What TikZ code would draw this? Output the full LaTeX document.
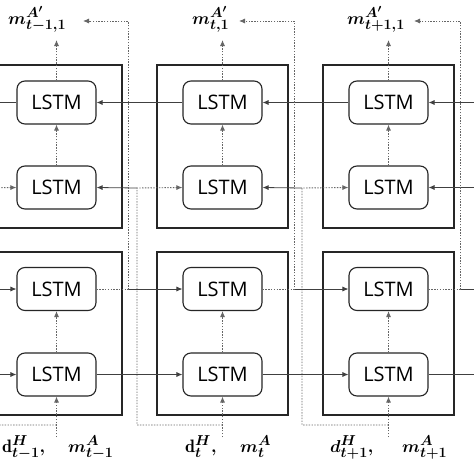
\documentclass[tikz,border=0pt]{standalone}
\usepackage{fontspec}
\setsansfont{Open Sans}
\DeclareMathSizes{18}{18}{14}{11}
\usetikzlibrary{arrows.meta}
\begin{document}
\begin{tikzpicture}[x=1pt,y=-1pt,
  lstm/.style={draw=black!85,line width=1.1pt,rounded corners=8pt,minimum width=79pt,minimum height=43pt,inner sep=0pt,font=\sffamily\fontsize{20}{20}\selectfont,fill=white},
  boxframe/.style={draw=black!85,line width=1.1pt},
  link/.style={draw=black!75,line width=0.8pt},
  dotlink/.style={draw=black!60,line width=0.9pt,dash pattern=on 1.4pt off 1.4pt},
  tip/.style={-{Latex[length=6pt,width=5pt]}},
  lab/.style={anchor=base west,inner sep=0pt,font=\fontsize{18}{18}\selectfont\boldmath}]
\useasboundingbox (0,0) rectangle (474,474);
\clip (0,0) rectangle (474,474);
\fill[white] (0,0) rectangle (474,474);
% frames
\foreach \c/\n in {56.5/1,222.5/2,388.5/3}{
  \draw[boxframe] (\c-65.5,65) rectangle (\c+65.5,228);
  \draw[boxframe] (\c-65.5,252) rectangle (\c+65.5,415);
}
% LSTM nodes
\foreach \c/\n in {56.5/1,222.5/2,388.5/3}{
  \node[lstm] (T\n) at (\c,102.5) {LSTM};
  \node[lstm] (U\n) at (\c,187.5) {LSTM};
  \node[lstm] (P\n) at (\c,289) {LSTM};
  \node[lstm] (Q\n) at (\c,374.5) {LSTM};
  \coordinate (top\n) at (\c,40);
  \coordinate (in\n) at (\c,437);
  \coordinate (join\n) at (\c,425);
}
% labels
\node[lab] (L1) at (8,24) {$m^{A'}_{t-1,1}$};
\node[lab] (L2) at (192,24) {$m^{A'}_{t,1}$};
\node[lab] (L3) at (347,24) {$m^{A'}_{t+1,1}$};
\node[lab] (D1) at (2,452) {$\mathrm{d}^{H}_{t-1},$};
\node[lab] (M1) at (68,452) {$m^{A}_{t-1}$};
\node[lab] (D2) at (185,452) {$\mathrm{d}^{H}_{t},$};
\node[lab] (M2) at (240,452) {$m^{A}_{t}$};
\node[lab] (D3) at (330,452) {$d^{H}_{t+1},$};
\node[lab] (M3) at (402,452) {$m^{A}_{t+1}$};
% coordinates for routes
\coordinate (a1) at (128,289); \coordinate (a2) at (294.5,289); \coordinate (a3) at (460,289);
\coordinate (h1) at (83,21); \coordinate (h2) at (239,21); \coordinate (h3) at (414,21);
\coordinate (b0) at (-29,188); \coordinate (b1) at (137,188); \coordinate (b2) at (302,188);
\coordinate (eL1) at (0,102.5); \coordinate (eR1) at (474,102.5);
\coordinate (eR2) at (474,187.5);
\coordinate (eL3) at (0,289); \coordinate (eR3) at (474,289);
\coordinate (eL4) at (0,374.5); \coordinate (eR4) at (474,374.5);
% vertical dotted arrows inside and outside boxes
\foreach \n in {1,2,3}{
  \draw[dotlink,tip] (T\n.north) -- (top\n);
  \draw[dotlink,tip] (U\n.north) -- (T\n.south);
  \draw[dotlink,tip] (Q\n.north) -- (P\n.south);
  \draw[dotlink,tip] (in\n) -- (Q\n.south);
}
% top row, upper: right to left
\draw[link] (T1.west) -- (eL1);
\draw[link,tip] (T2.west) -- (T1.east);
\draw[link,tip] (T3.west) -- (T2.east);
\draw[link,tip] (eR1) -- (T3.east);
% top row, lower
\draw[link,tip] (b1) -- (U1.east);
\draw[link,tip] (b2) -- (U2.east);
\draw[link,tip] (eR2) -- (U3.east);
\draw[dotlink,tip] (join1) -| (b0) -- (U1.west);
\draw[dotlink,tip] (join2) -| (b1) -- (U2.west);
\draw[dotlink,tip] (join3) -| (b2) -- (U3.west);
% bottom row, upper
\draw[link,tip] (eL3) -- (P1.west);
\draw[link,tip] (a1) -- (P2.west);
\draw[link,tip] (a2) -- (P3.west);
\draw[link] (a3) -- (eR3);
\draw[dotlink,tip] (P1.east) -- (a1) |- (h1);
\draw[dotlink,tip] (P2.east) -- (a2) |- (h2);
\draw[dotlink,tip] (P3.east) -- (a3) |- (h3);
% bottom row, lower
\draw[link,tip] (eL4) -- (Q1.west);
\draw[link,tip] (Q1.east) -- (Q2.west);
\draw[link,tip] (Q2.east) -- (Q3.west);
\draw[link] (Q3.east) -- (eR4);
\end{tikzpicture}
\end{document}
